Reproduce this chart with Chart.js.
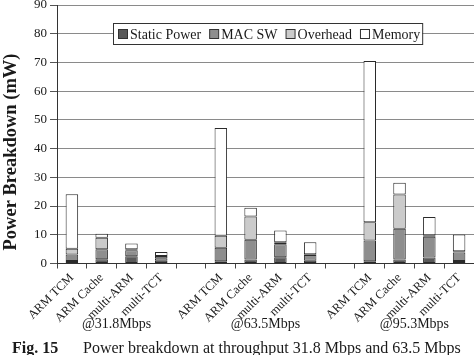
<!DOCTYPE html>
<html><head><meta charset="utf-8">
<script src="https://cdn.jsdelivr.net/npm/chart.js@4/dist/chart.umd.min.js"></script>
<style>html,body{margin:0;padding:0;background:#fff}#wrap{position:relative;width:474px;height:355px}</style>
</head><body><div id="wrap"><canvas id="c" width="474" height="355"></canvas></div>
<script>
const categories = ['ARM TCM','ARM Cache','multi-ARM','multi-TCT','','ARM TCM','ARM Cache','multi-ARM','multi-TCT','','ARM TCM','ARM Cache','multi-ARM','multi-TCT'];
const groupLabels = ['@31.8Mbps','@63.5Mbps','@95.3Mbps'];
const seriesNames = ['Static Power','MAC SW','Overhead','Memory'];
const staticPower = [0.9, 1.5, 2.5, 1.0, null, 0.8, 1.4, 2.2, 1.0, null, 0.8, 1.4, 2.1, 0.9];
const macSW       = [2.2, 3.5, 2.1, 0.8, null, 4.7, 6.9, 4.5, 2.0, null, 7.2, 10.7, 7.2, 2.9];
const overhead    = [2.0, 4.0, 0.4, 0.8, null, 4.2, 8.1, 0.7, 0.2, null, 6.4, 11.9, 0.5, 0.5];
const memory      = [19.0, 1.4, 2.0, 1.4, null, 37.5, 3.0, 4.1, 4.2, null, 56.1, 4.1, 6.4, 5.8];
const yTickValues = [0,10,20,30,40,50,60,70,80,90];
const yTitle = 'Power Breakdown (mW)';
const captionFig = 'Fig. 15';
const captionText = 'Power breakdown at throughput 31.8 Mbps and 63.5 Mbps';

const colors = ['#5a5a5a','#8e8e8e','#cbcbcb','#ffffff'];
const SERIF = '"Liberation Serif", "Times New Roman", serif';

const seriesData = [staticPower, macSW, overhead, memory];
const datasets = seriesData.map((d,i)=>({
  label: seriesNames[i], data: d, backgroundColor: colors[i],
  borderColor: '#2a2a2a', borderWidth: 1, borderSkipped: false,
  barPercentage: 0.42, categoryPercentage: 1.0
}));

const extras = {
  id: 'extras',
  afterDraw(chart) {
    const ctx = chart.ctx;
    const xs = chart.scales.x;
    ctx.save();
    // legend
    ctx.font = '14px ' + SERIF;
    const sq = 9, gapT = 3, gapI = 8;
    let widths = seriesNames.map(n => ctx.measureText(n).width);
    let total = 5 + widths.reduce((a,w)=>a+sq+gapT+w,0) + gapI*(seriesNames.length-1) + 2;
    const bx = 113, by = 23, bh = 21;
    ctx.fillStyle = '#fff';
    ctx.fillRect(bx, by, total, bh);
    ctx.strokeStyle = '#333'; ctx.lineWidth = 1;
    ctx.strokeRect(bx+0.5, by+0.5, total, bh);
    let x = bx + 5;
    const cy = by + bh/2 + 0.5;
    seriesNames.forEach((n,i)=>{
      ctx.fillStyle = colors[i];
      ctx.fillRect(x+0.5, cy-sq/2, sq, sq);
      ctx.strokeStyle = '#333';
      ctx.strokeRect(x+0.5, cy-sq/2, sq, sq);
      ctx.fillStyle = '#1a1a1a';
      ctx.textBaseline = 'middle'; ctx.textAlign = 'left';
      ctx.fillText(n, x+sq+gapT, cy+1);
      x += sq + gapT + widths[i] + gapI;
    });
    // y title
    ctx.save();
    ctx.translate(11, 152);
    ctx.rotate(-Math.PI/2);
    ctx.font = 'bold 18.5px ' + SERIF;
    ctx.fillStyle = '#1a1a1a';
    ctx.textAlign = 'center'; ctx.textBaseline = 'middle';
    ctx.fillText(yTitle, 0, 0);
    ctx.restore();
    // group labels
    ctx.font = '14px ' + SERIF;
    ctx.fillStyle = '#1a1a1a';
    ctx.textAlign = 'center'; ctx.textBaseline = 'middle';
    groupLabels.forEach((g,i)=>{
      const a = xs.getPixelForValue(i*5), b = xs.getPixelForValue(i*5+3);
      ctx.fillText(g, (a+b)/2, 324);
    });
    // caption
    ctx.textAlign = 'left'; ctx.textBaseline = 'alphabetic';
    ctx.font = 'bold 16px ' + SERIF;
    ctx.fillText(captionFig, 12, 353);
    ctx.font = '16px ' + SERIF;
    ctx.fillText(captionText, 83, 353);
    ctx.restore();
  }
};

new Chart(document.getElementById('c'), {
  type: 'bar',
  data: { labels: categories, datasets },
  options: {
    responsive: false, animation: false,
    layout: { padding: { top: 5, left: 0, right: 0, bottom: 0 } },
    plugins: { legend: { display: false }, tooltip: { enabled: false } },
    scales: {
      x: {
        stacked: true,
        grid: { display: true, drawOnChartArea: false, drawTicks: true, tickLength: 5, color: '#444', offset: true },
        border: { color: '#333', width: 1 },
        ticks: { autoSkip: false, minRotation: 45, maxRotation: 45, padding: 2, color: '#1a1a1a', font: { family: SERIF, size: 12.5 } },
        afterFit(s) { s.height = 91.5; s.paddingLeft = 0; s.paddingRight = 0; }
      },
      y: {
        stacked: true, min: 0, max: 90,
        afterBuildTicks(s) { s.ticks = yTickValues.map(v => ({ value: v })); },
        grid: { color: '#8a8a8a', lineWidth: 1, tickLength: 7, tickColor: '#555' },
        border: { color: '#333', width: 1 },
        ticks: { padding: 3, color: '#1a1a1a', font: { family: SERIF, size: 13 } },
        afterFit(s) { s.width = 57; s.paddingTop = 0; s.paddingBottom = 0; }
      }
    }
  },
  plugins: [extras]
});
</script></body></html>
